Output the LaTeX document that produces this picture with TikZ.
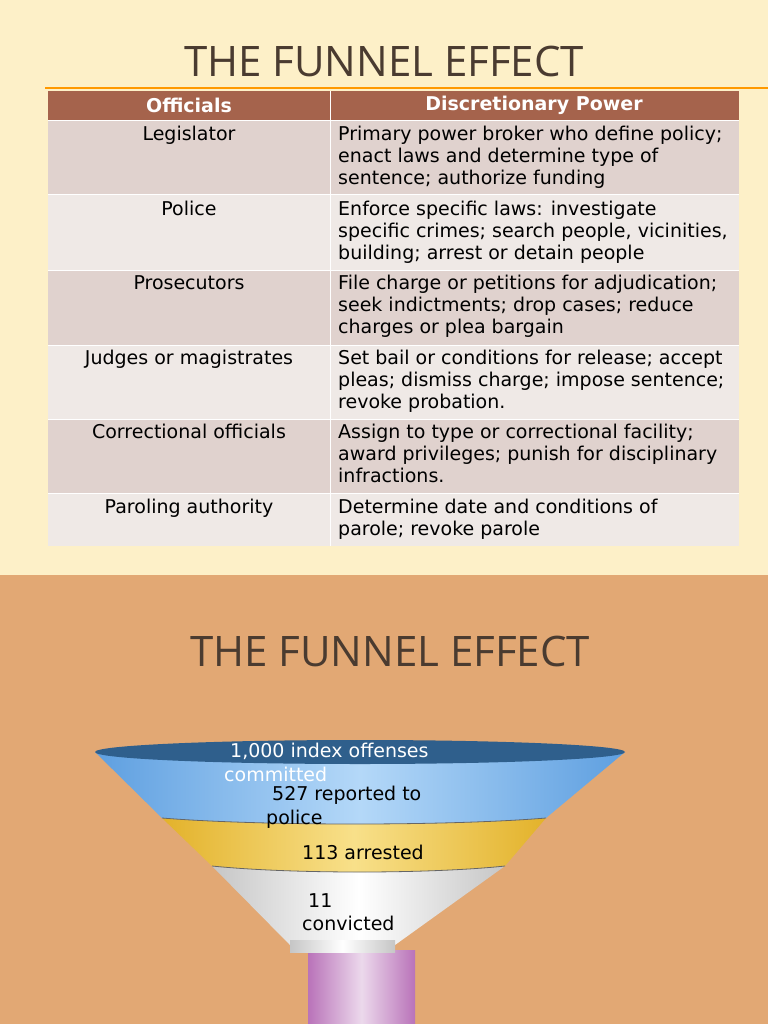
\documentclass[tikz,border=0pt]{standalone}
\usepackage{fontspec}
\setmainfont{DejaVu Sans}
\newfontfamily\titlefont{Open Sans}
\begin{document}
\begin{tikzpicture}[x=1pt,y=-1pt,
  cell/.style={anchor=north,align=center,font=\fontsize{19}{22}\selectfont,inner sep=0pt},
  desc/.style={anchor=north west,align=left,font=\fontsize{19}{22}\selectfont,inner sep=0pt},
  hdr/.style={text=white,font=\bfseries\fontsize{19}{22}\selectfont},
  flab/.style={anchor=north west,align=left,font=\fontsize{19}{23.5}\selectfont,inner sep=0pt},
  ttl/.style={font=\titlefont\fontsize{42}{46}\selectfont,text=titlec}]
\definecolor{cream}{HTML}{FDF0C8}
\definecolor{tan}{HTML}{E2A874}
\definecolor{titlec}{HTML}{4A3B30}
\definecolor{hdrc}{HTML}{A5634C}
\definecolor{rowA}{HTML}{E0D2CE}
\definecolor{rowB}{HTML}{EFE9E6}
\definecolor{blueedge}{HTML}{5E9FE0}
\definecolor{bluemid}{HTML}{B4D8F8}
\definecolor{bluetop}{HTML}{2F5F8C}
\definecolor{goldedge}{HTML}{E3B22A}
\definecolor{goldmid}{HTML}{F8E08A}
\useasboundingbox (0,0) rectangle (768,1024);
\fill[cream] (0,0) rectangle (768,575);
\fill[tan] (0,575) rectangle (768,1024);
\node[ttl] (t1) at (384,62) {THE FUNNEL EFFECT};
\draw[orange!80!yellow,line width=1.2pt] (45,88) -- (768,88);
% table
\fill[hdrc] (48,91) rectangle (739,120);
\draw[white,line width=1pt] (330,91) -- (330,120);
\node[hdr] (h1) at (189,105) {Officials};
\node[hdr] (h2) at (534,105) {Discretionary Power};
\foreach \top/\bot/\c in {121/195/rowA,195/270/rowB,270/345/rowA,345/419/rowB,419/493/rowA,493/546/rowB}{
  \fill[\c] (48,\top) rectangle (739,\bot);
  \draw[white,line width=1pt] (48,\top) -- (739,\top);
  \draw[white,line width=1pt] (330,\top) -- (330,\bot);
}
\node[cell] (o1) at (189,126) {Legislator};
\node[desc] (d1) at (338,126) {Primary power broker who define policy;\\enact laws and determine type of\\sentence; authorize funding};
\node[cell] (o2) at (189,201) {Police};
\node[desc] (d2) at (338,201) {Enforce specific laws: investigate\\specific crimes; search people, vicinities,\\building; arrest or detain people};
\node[cell] (o3) at (189,275) {Prosecutors};
\node[desc] (d3) at (338,275) {File charge or petitions for adjudication;\\seek indictments; drop cases; reduce\\charges or plea bargain};
\node[cell] (o4) at (189,350) {Judges or magistrates};
\node[desc] (d4) at (338,350) {Set bail or conditions for release; accept\\pleas; dismiss charge; impose sentence;\\revoke probation.};
\node[cell] (o5) at (189,424) {Correctional officials};
\node[desc] (d5) at (338,424) {Assign to type or correctional facility;\\award privileges; punish for disciplinary\\infractions.};
\node[cell] (o6) at (189,499) {Paroling authority};
\node[desc] (d6) at (338,499) {Determine date and conditions of\\parole; revoke parole};
% second slide
\node[ttl] (t2) at (390,651) {THE FUNNEL EFFECT};
% tube
\shade[left color=violet!55!white,right color=violet!55!white,middle color=violet!15!white] (308,950) rectangle (415,1024);
% grey band
\shade[left color=gray!45,right color=gray!45,middle color=white] (212,866) -- (505,866) -- (395,945) -- (290,945) -- cycle;
\shade[left color=gray!45,right color=gray!45,middle color=white] (290,940) rectangle (395,952);
% yellow band
\shade[left color=goldedge,right color=goldedge,middle color=goldmid] (162,818) -- (546,818) -- (505,866) .. controls (430,874) and (290,874) .. (212,866) -- cycle;
\draw[black!60,line width=0.8pt] (212,866) .. controls (290,874) and (430,874) .. (505,866);
% blue band
\shade[left color=blueedge,right color=blueedge,middle color=bluemid] (95,752) -- (625,752) -- (546,818) .. controls (450,826) and (260,826) .. (162,818) -- cycle;
\draw[black!60,line width=0.8pt] (162,818) .. controls (260,826) and (450,826) .. (546,818);
\fill[bluetop] (360,752) ellipse (265 and 12);
\node[flab,text=white] (l1) at (224,743) {\hspace*{6pt}1,000 index offenses\\committed};
\node[flab] (l2) at (266,786) {\hspace*{6pt}527 reported to\\police};
\node[flab] (l3) at (302,845) {113 arrested};
\node[flab] (l4) at (302,893) {\hspace*{6pt}11\\convicted};
\end{tikzpicture}
\end{document}
